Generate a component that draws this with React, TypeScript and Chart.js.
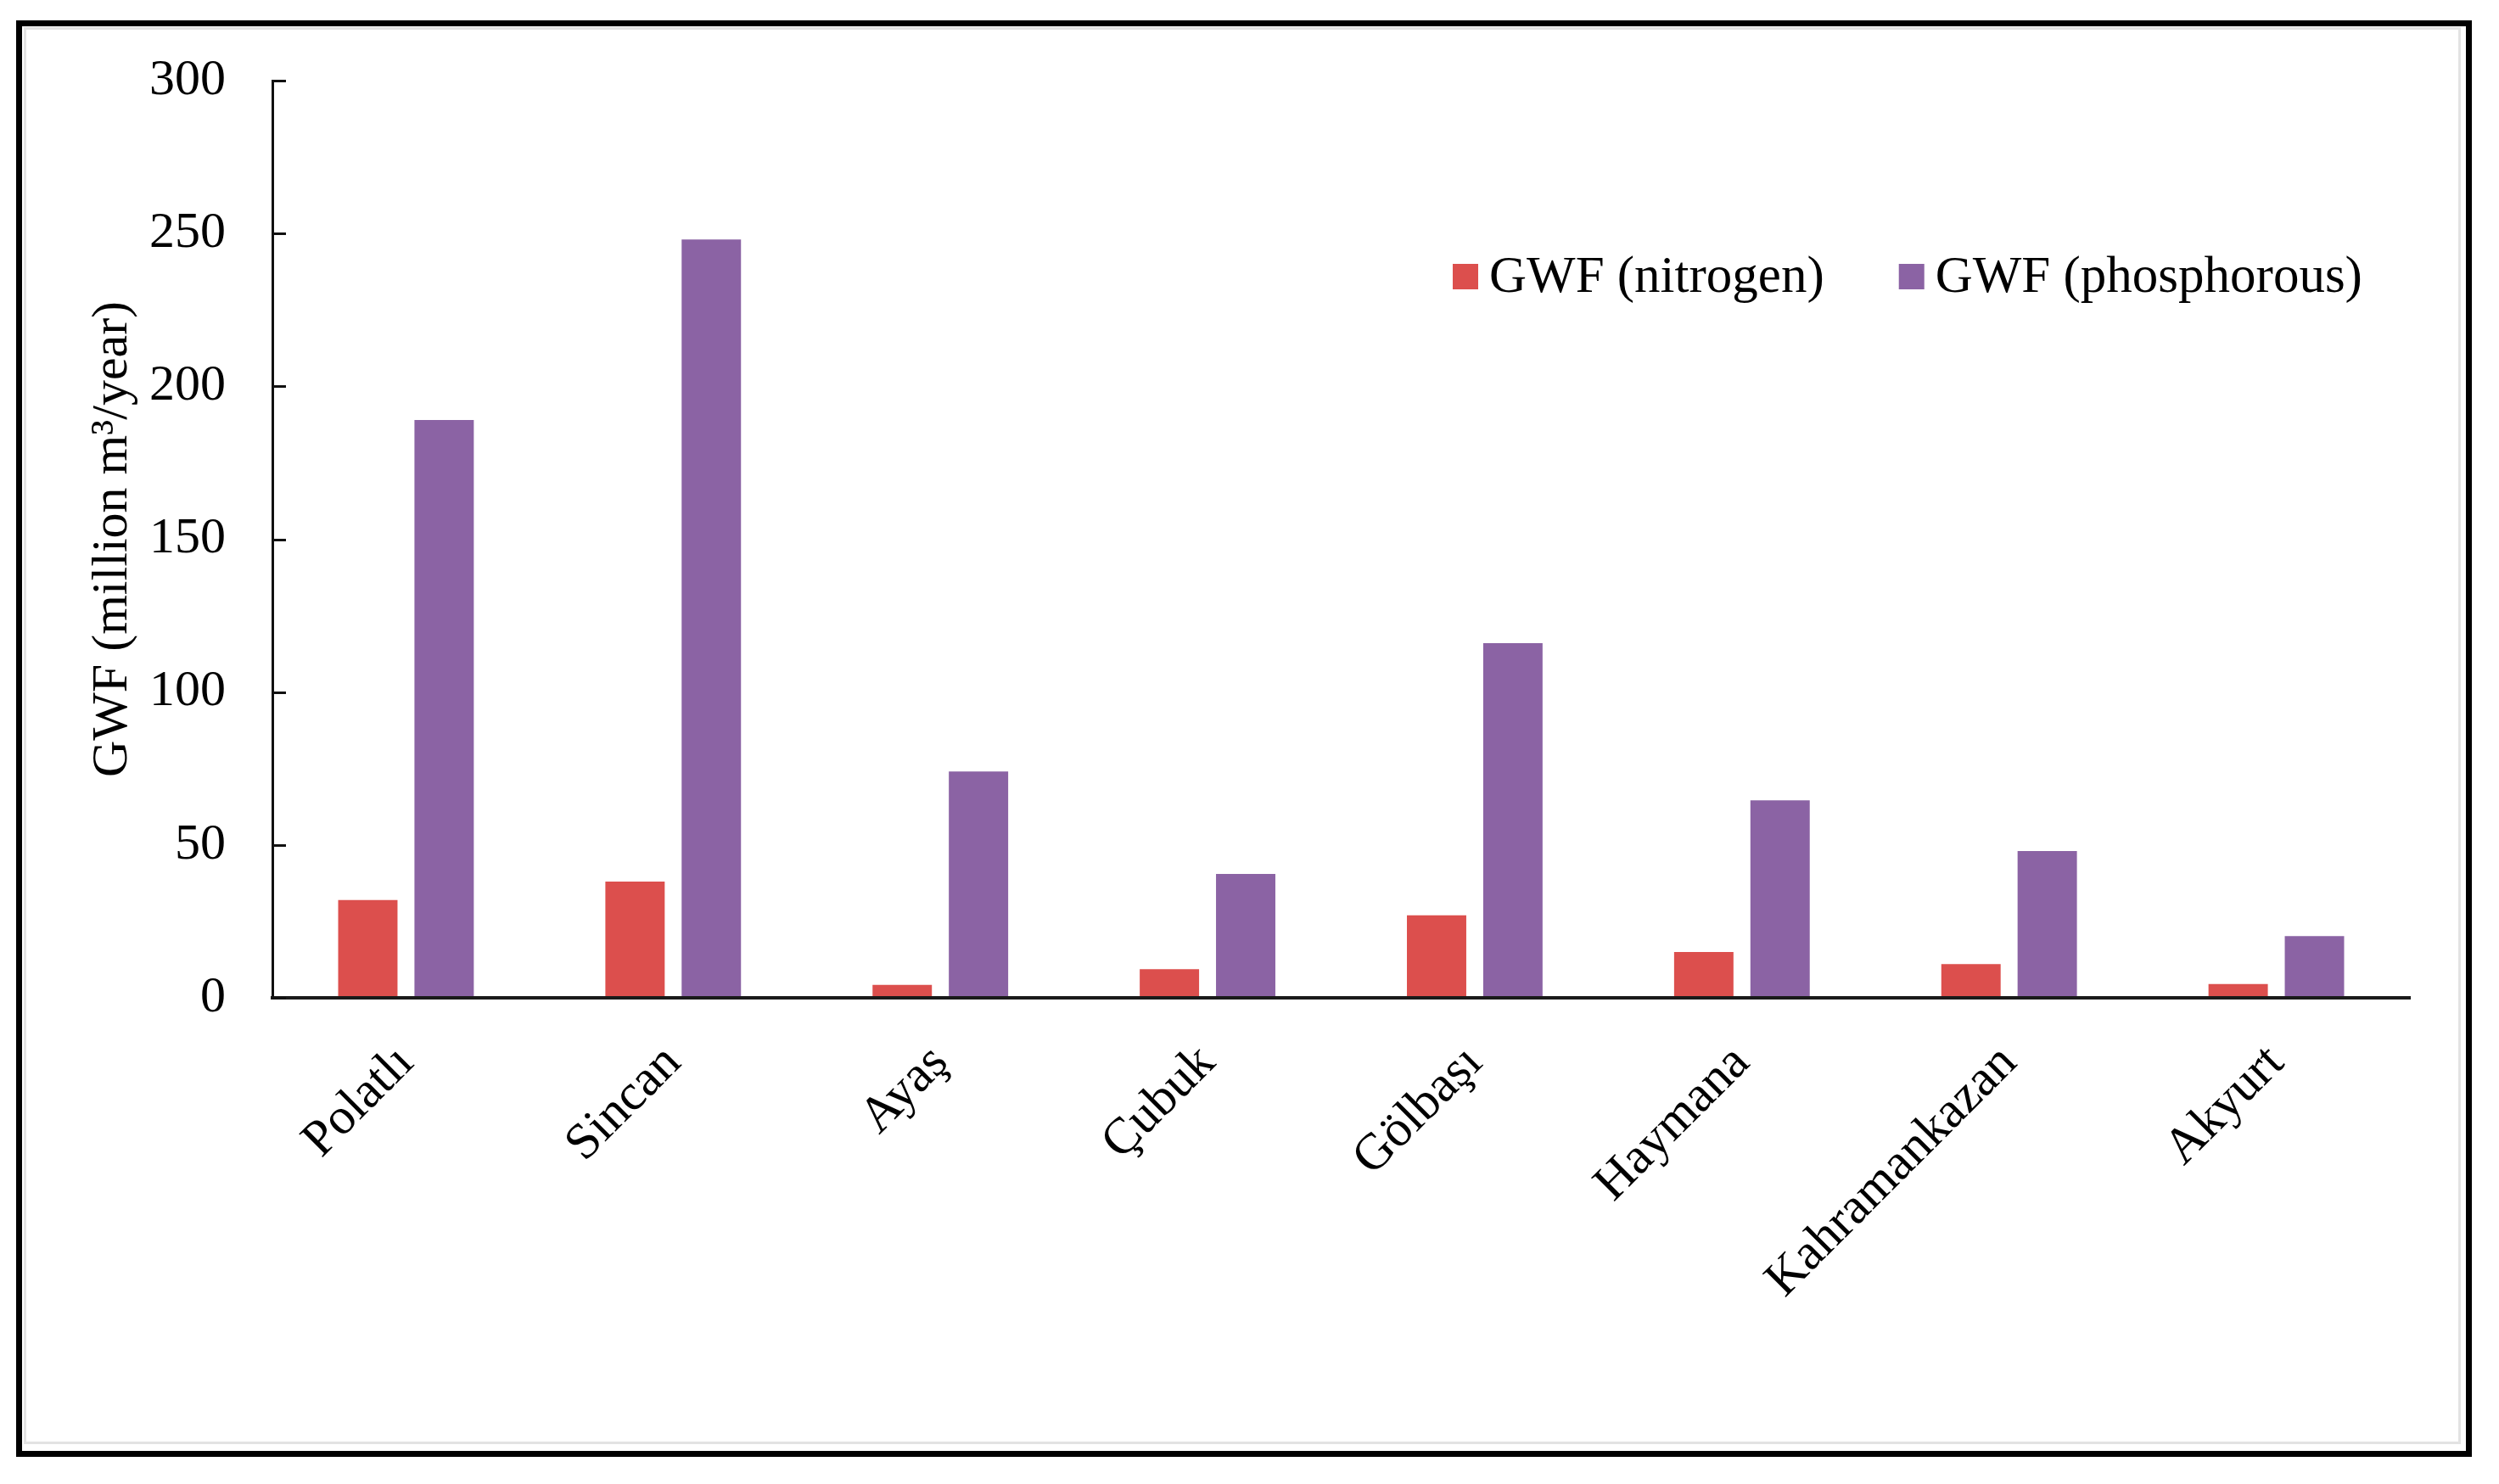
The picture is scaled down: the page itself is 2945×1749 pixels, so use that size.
import React, { useEffect, useRef } from "react";
import { Chart, registerables } from "chart.js";

Chart.register(...registerables);

// Grey water footprint per district (million m³/year)
const districts = ["Polatlı", "Sincan", "Ayaş", "Çubuk", "Gölbaşı", "Haymana", "Kahramankazan", "Akyurt"];
const nitrogenGWF = [32, 38, 4.2, 9.4, 27, 15, 11, 4.5];
const phosphorousGWF = [189, 248, 74, 40.5, 116, 64.6, 48, 20.2];
const seriesLabels = ["GWF (nitrogen)", "GWF (phosphorous)"];
const seriesColors = ["#DC4F4D", "#8B63A4"];
const yMin = 0;
const yMax = 300;
const yStep = 50;
const yTitle = "GWF (million m³/year)";

const W = 2945;
const H = 1749;
const FONT = "'Liberation Serif', 'Times New Roman', Times, serif";

// Short tick marks pointing into the plot from the value axis
const insideTicks = {
  id: "insideTicks",
  afterDraw(chart: any) {
    const { ctx, chartArea, scales } = chart;
    const y = scales.y;
    ctx.save();
    ctx.strokeStyle = "#111";
    ctx.lineWidth = 3;
    y.ticks.forEach((t: any) => {
      const py = Math.round(y.getPixelForValue(t.value)) + 0.5;
      ctx.beginPath();
      ctx.moveTo(chartArea.left, py);
      ctx.lineTo(chartArea.left + 16, py);
      ctx.stroke();
    });
    ctx.restore();
  },
};

// Legend drawn inside the plot, top right
const inlineLegend = {
  id: "inlineLegend",
  afterDraw(chart: any) {
    const { ctx } = chart;
    const box = 30;
    const textGap = 13;
    const itemGap = 88;
    let x = 1712;
    const cy = 326;
    ctx.save();
    ctx.font = `61px ${FONT}`;
    ctx.textBaseline = "middle";
    ctx.textAlign = "left";
    chart.data.datasets.forEach((ds: any) => {
      ctx.fillStyle = ds.backgroundColor;
      ctx.fillRect(x, cy - box / 2, box, box);
      x += box + textGap;
      ctx.fillStyle = "#000";
      ctx.fillText(ds.label, x, cy + 2);
      x += ctx.measureText(ds.label).width + itemGap;
    });
    ctx.restore();
  },
};

export default function App() {
  const canvasRef = useRef<HTMLCanvasElement | null>(null);

  useEffect(() => {
    document.body.style.margin = "0";
    const canvas = canvasRef.current;
    if (!canvas) return;
    const chart = new Chart(canvas, {
      type: "bar",
      data: {
        labels: districts,
        datasets: [
          {
            label: seriesLabels[0],
            data: nitrogenGWF,
            backgroundColor: seriesColors[0],
            borderWidth: 0,
            barPercentage: 0.778,
            categoryPercentage: 0.571,
          },
          {
            label: seriesLabels[1],
            data: phosphorousGWF,
            backgroundColor: seriesColors[1],
            borderWidth: 0,
            barPercentage: 0.778,
            categoryPercentage: 0.571,
          },
        ],
      },
      options: {
        responsive: false,
        animation: false,
        devicePixelRatio: 1,
        layout: { padding: { left: 0, top: 95, right: 105, bottom: 0 } },
        plugins: {
          legend: { display: false },
          tooltip: { enabled: false },
        },
        scales: {
          x: {
            type: "category",
            offset: true,
            grid: { display: false, drawTicks: false },
            border: { display: true, color: "#1a1a1a", width: 4, z: 1 },
            ticks: {
              autoSkip: false,
              minRotation: 45,
              maxRotation: 45,
              padding: 42,
              color: "#000",
              font: { family: FONT, size: 60 },
            },
            afterFit(scale: any) {
              scale.height = H - 1176;
            },
          },
          y: {
            type: "linear",
            min: yMin,
            max: yMax,
            grid: { display: false, drawTicks: false },
            border: { display: true, color: "#111", width: 3, z: 1 },
            ticks: {
              stepSize: yStep,
              padding: 55,
              color: "#000",
              font: { family: FONT, size: 60 },
            },
            title: {
              display: true,
              text: yTitle,
              color: "#000",
              font: { family: FONT, size: 60 },
              padding: { top: 97, bottom: 0 },
            },
            afterFit(scale: any) {
              scale.width = 321;
            },
          },
        },
      },
      plugins: [insideTicks, inlineLegend],
    });
    return () => chart.destroy();
  }, []);

  return (
    <div style={{ position: "absolute", left: 0, top: 0, width: W, height: H, background: "#fff", overflow: "hidden" }}>
      <canvas ref={canvasRef} width={W} height={H} style={{ position: "absolute", left: 0, top: 0, width: W, height: H }} />
      <div
        style={{
          position: "absolute",
          left: 19,
          top: 24,
          width: 2913 - 19,
          height: 1717 - 24,
          border: "7px solid #000",
          boxSizing: "border-box",
          pointerEvents: "none",
        }}
      />
      <div
        style={{
          position: "absolute",
          left: 28,
          top: 32,
          width: 2900 - 28,
          height: 1702 - 32,
          border: "3px solid #e3e3e3",
          boxSizing: "border-box",
          pointerEvents: "none",
        }}
      />
    </div>
  );
}
